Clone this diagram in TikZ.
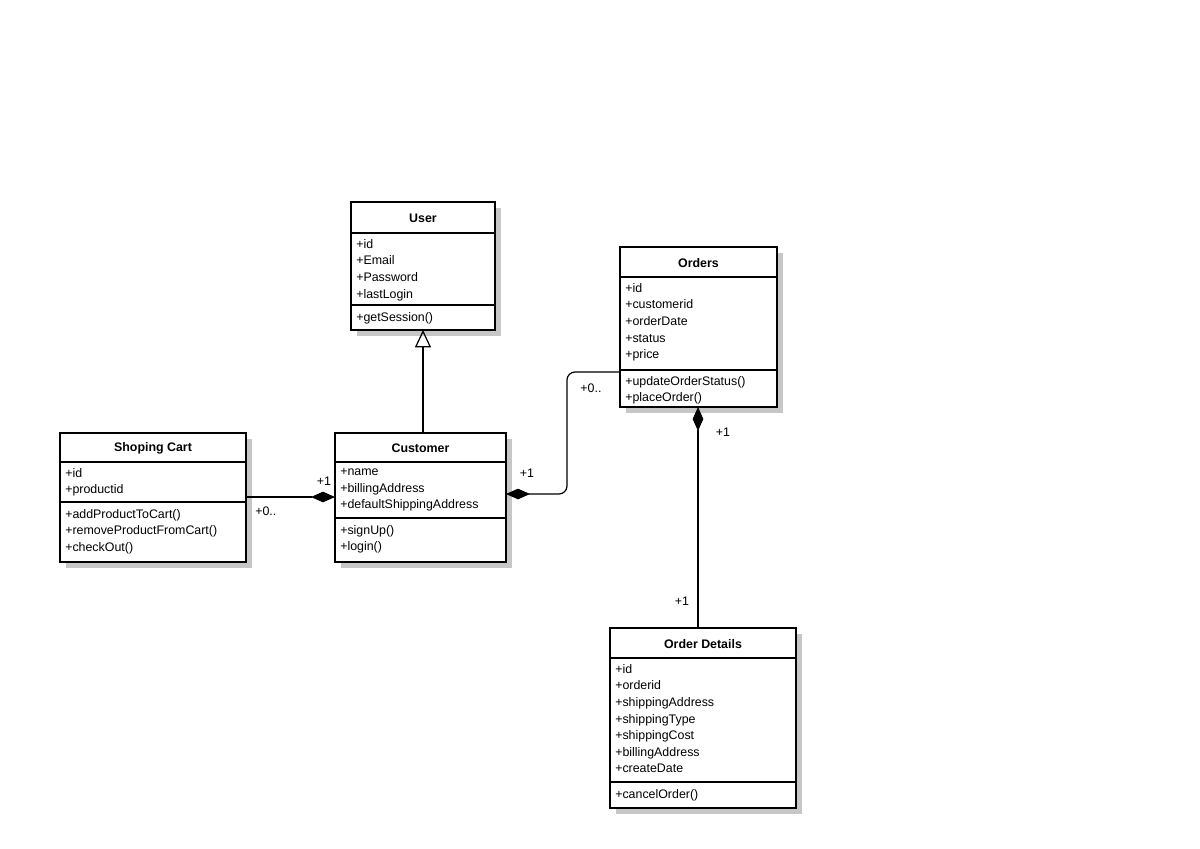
\documentclass[tikz,border=0pt]{standalone}
\usepackage{fontspec}
\setmainfont{Liberation Sans}
\usetikzlibrary{arrows.meta}
\begin{document}
\begin{tikzpicture}[x=0.75pt,y=-0.75pt,
  txt/.style={font=\fontsize{9.3}{12.45}\selectfont,align=left,anchor=north west,inner sep=0pt},
  ttl/.style={font=\fontsize{9.3}{11}\selectfont\bfseries,inner sep=0pt},
  box/.style={draw=black,fill=white,line width=0.9pt},
  shadow/.style={fill=black!22,draw=none},
  lbl/.style={font=\fontsize{9.3}{11}\selectfont,inner sep=0pt},
  conn/.style={line width=0.9pt}]
\useasboundingbox (0,0) rectangle (1200,849);
\fill[white] (0,0) rectangle (1200,849);
\newcommand\umlcls[9]{%
  \fill[shadow] (#2+6,#3+6) rectangle (#4+6,#5+6);
  \draw[box] (#2,#3) rectangle (#4,#5);
  \node[inner sep=0pt,minimum width=0pt] (#1) at ({(#2+#4)/2},{(#3+#5)/2}) {};
  \draw[line width=0.9pt] (#2,#6) -- (#4,#6);
  \draw[line width=0.9pt] (#2,#7) -- (#4,#7);
  \node[ttl] (#1-t) at ({(#2+#4)/2},{(#3+#6)/2+1}) {#8};
  \node[txt] (#1-a) at (#2+5,#6+6) {#9};
}
\umlcls{user}{351}{202}{495}{330}{233}{305}{User}{+id\\+Email\\+Password\\+lastLogin}
\node[txt] (user-m) at (356,312) {+getSession()};
\umlcls{orders}{620}{247}{777}{407}{277}{370}{Orders}{+id\\+customerid\\+orderDate\\+status\\+price}
\node[txt] (orders-m) at (625,376) {+updateOrderStatus()\\+placeOrder()};
\umlcls{cart}{60}{433}{246}{562}{462}{502}{Shoping Cart}{+id\\+productid}
\node[txt] (cart-m) at (65,509) {+addProductToCart()\\+removeProductFromCart()\\+checkOut()};
\umlcls{cust}{335}{433}{506}{562}{462}{518}{Customer}{+name\\+billingAddress\\+defaultShippingAddress}
\node[txt] (cust-m) at (340,525) {+signUp()\\+login()};
\umlcls{det}{610}{628}{796}{808}{658}{782}{Order Details}{+id\\+orderid\\+shippingAddress\\+shippingType\\+shippingCost\\+billingAddress\\+createDate}
\node[txt] (det-m) at (615,789) {+cancelOrder()};
\coordinate (cust-top) at (423,433);
\coordinate (user-bot) at (423,330);
\draw[conn,-{Triangle[open,length=13pt,width=12pt]}] (cust-top) -- (user-bot);
\coordinate (cart-r) at (246,497);
\coordinate (cust-l) at (335,497);
\draw[conn,-{Diamond[length=18pt,width=8pt]}] (cart-r) -- (cust-l);
\node[lbl,anchor=west] at (255,511) {+0..};
\node[lbl] at (324,481) {+1};
\coordinate (cust-r) at (506,494);
\coordinate (ord-l) at (620,372);
\draw[conn,{Diamond[length=18pt,width=8pt]}-,rounded corners=6pt] (cust-r) -- (567,494) -- (567,372) -- (ord-l);
\node[lbl] at (527,473) {+1};
\node[lbl] at (591,388) {+0..};
\coordinate (ord-b) at (698,407);
\coordinate (det-t) at (698,628);
\draw[conn,{Diamond[length=18pt,width=8pt]}-] (ord-b) -- (det-t);
\node[lbl] at (723,432) {+1};
\node[lbl] at (682,601) {+1};
\end{tikzpicture}
\end{document}
